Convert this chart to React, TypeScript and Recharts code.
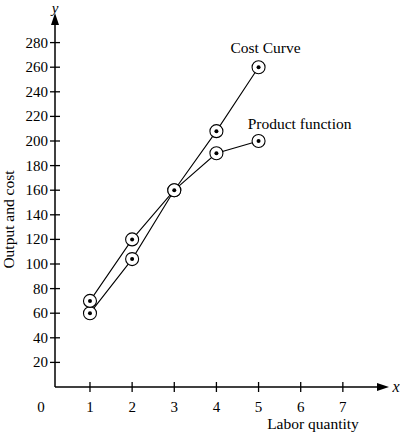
import { LineChart, Line, XAxis, YAxis } from 'recharts'

const labor = [1, 2, 3, 4, 5]
const costValues = [60, 104, 160, 208, 260]
const productValues = [70, 120, 160, 190, 200]
const xTicks = [1, 2, 3, 4, 5, 6, 7]
const yTicks = [20, 40, 60, 80, 100, 120, 140, 160, 180, 200, 220, 240, 260, 280]

const data = labor.map((l, i) => ({ labor: l, cost: costValues[i], product: productValues[i] }))

const FONT = '"Liberation Serif", "DejaVu Serif", serif'

// open circle with a small dot in the middle
const RingDot = (props: any) => {
  const { cx, cy } = props
  if (cx == null || cy == null) return null
  return (
    <g>
      <circle cx={cx} cy={cy} r={6.5} fill="#fff" stroke="#000" strokeWidth={1.1} />
      <circle cx={cx} cy={cy} r={2} fill="#000" />
    </g>
  )
}

const XTick = (props: any) => {
  const { x, y, payload } = props
  return (
    <g>
      <line x1={x} x2={x} y1={y - 5} y2={y + 5} stroke="#000" strokeWidth={1.3} />
      <text x={x} y={y + 25} textAnchor="middle" fontSize={15} fontFamily={FONT} fill="#000">
        {payload.value}
      </text>
    </g>
  )
}

const YTick = (props: any) => {
  const { x, y, payload } = props
  return (
    <g>
      <line x1={x - 5} x2={x + 5} y1={y} y2={y} stroke="#000" strokeWidth={1.3} />
      <text x={x - 7} y={y + 5} textAnchor="end" fontSize={15} fontFamily={FONT} fill="#000">
        {payload.value}
      </text>
    </g>
  )
}

const XAxisDecor = (props: any) => {
  const { x, y, width } = props.viewBox
  const end = x + width
  return (
    <g>
      <polygon points={`${end + 4},${y} ${end - 8},${y - 4} ${end - 8},${y + 4}`} fill="#000" />
      <text x={end + 11} y={y + 5} textAnchor="middle" fontSize={16} fontStyle="italic" fontFamily={FONT} fill="#000">
        x
      </text>
      <text x={x - 14} y={y + 25} textAnchor="middle" fontSize={15} fontFamily={FONT} fill="#000">
        0
      </text>
      <text x={313} y={y + 42} textAnchor="middle" fontSize={15.5} fontFamily={FONT} fill="#000">
        Labor quantity
      </text>
    </g>
  )
}

const YAxisDecor = (props: any) => {
  const { x, y, width, height } = props.viewBox
  const ax = x + width
  const my = y + height / 2 + 17
  return (
    <g>
      <polygon points={`${ax},${y - 5} ${ax - 4},${y + 7} ${ax + 4},${y + 7}`} fill="#000" />
      <text x={ax} y={y - 5} textAnchor="middle" fontSize={15} fontStyle="italic" fontFamily={FONT} fill="#000">
        y
      </text>
      <text
        x={14}
        y={my}
        transform={`rotate(-90, 14, ${my})`}
        textAnchor="middle"
        fontSize={15.5}
        fontFamily={FONT}
        fill="#000"
      >
        Output and cost
      </text>
    </g>
  )
}

const SeriesName = (text: string, dx: number, dy: number) => (props: any) => {
  const { x, y, index } = props
  if (index !== labor.length - 1) return null
  return (
    <text x={x + dx} y={y + dy} textAnchor="middle" fontSize={15.5} fontFamily={FONT} fill="#000">
      {text}
    </text>
  )
}

export default function App() {
  return (
    <div style={{ position: 'absolute', left: 0, top: 0, background: '#fff' }}>
      <LineChart width={400} height={434} data={data} margin={{ top: 18, right: 15, bottom: 7, left: 10 }}>
        <XAxis
          dataKey="labor"
          type="number"
          domain={[0.17, 8]}
          ticks={xTicks}
          allowDataOverflow
          tickSize={0}
          tickMargin={0}
          tick={<XTick />}
          tickLine={false}
          axisLine={{ stroke: '#000', strokeWidth: 1.5 }}
          height={40}
          label={<XAxisDecor />}
        />
        <YAxis
          type="number"
          domain={[0, 300]}
          ticks={yTicks}
          allowDataOverflow
          tickSize={0}
          tickMargin={0}
          tick={<YTick />}
          tickLine={false}
          axisLine={{ stroke: '#000', strokeWidth: 1.5 }}
          width={45}
          label={<YAxisDecor />}
        />
        <Line
          dataKey="cost"
          stroke="#000"
          strokeWidth={1.1}
          dot={<RingDot />}
          activeDot={false}
          isAnimationActive={false}
          label={SeriesName('Cost Curve', 7, -14)}
        />
        <Line
          dataKey="product"
          stroke="#000"
          strokeWidth={1.1}
          dot={<RingDot />}
          activeDot={false}
          isAnimationActive={false}
          label={SeriesName('Product function', 41, -12)}
        />
      </LineChart>
    </div>
  )
}
